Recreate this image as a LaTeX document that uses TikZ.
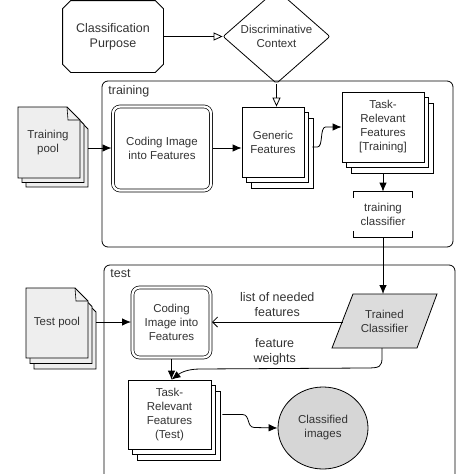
\documentclass[tikz,border=0pt]{standalone}
\usepackage{fontspec}
\setmainfont{Liberation Sans}
\usetikzlibrary{arrows.meta,shapes.geometric,shadows}
\definecolor{docfill}{HTML}{EEEEEE}
\definecolor{tcfill}{HTML}{DCDCDC}
\definecolor{cifill}{HTML}{D6D6D6}
\newcommand{\docsheet}[5]{%
  \draw[fill=docfill, line width=0.8pt] (#1,#2) -- ({#1+#3-#5},#2) -- ({#1+#3},{#2+#5}) -- ({#1+#3},{#2+#4}) -- (#1,{#2+#4}) -- cycle;}
\newcommand{\docflap}[5]{%
  \draw[line width=0.6pt] ({#1+#3-#5},#2) -- ({#1+#3-#5+1},{#2+#5}) -- ({#1+#3},{#2+#5});}
\begin{document}
\begin{tikzpicture}[x=1pt,y=-1pt,
  every node/.style={font=\fontsize{11.5}{14}\selectfont, text=black!80, align=center, inner sep=0pt},
  lbl/.style={font=\fontsize{12.5}{15}\selectfont},
  line width=0.8pt,
  arr/.style={-{Latex[length=9pt,width=7.5pt]}},
  oarr/.style={-{Triangle[open,length=9pt,width=8pt]}},
  varr/.style={-{Straight Barb[length=5pt,width=10pt]}},
  stackbox/.style={draw, fill=white, line width=0.8pt,
     double copy shadow={shadow xshift=4.5pt, shadow yshift=-5.5pt, draw=black, fill=white, line width=0.8pt}},
  codebox/.style={draw, double, double distance=2.3pt, line width=0.7pt, rounded corners=7pt, outer sep=1.5pt},
]
\useasboundingbox (0,0) rectangle (474,474);
\clip (0,0) rectangle (474,474);

% frames
\draw[rounded corners=6pt] (102,81) rectangle (453,247);
\node[lbl, anchor=base west] (trainlbl) at (108,94) {training};
\draw[rounded corners=6pt] (104,265) rectangle (455,495);
\node[lbl, anchor=base west] (testlbl) at (110,277) {test};

% top
\node[lbl, minimum width=100pt, minimum height=71pt] (cp) at (113,36.5) {Classification\\Purpose};
\draw ([xshift=8pt]cp.north west) -- ([xshift=-8pt]cp.north east) -- ([yshift=-8pt]cp.north east)
   -- ([yshift=8pt]cp.south east) -- ([xshift=-8pt]cp.south east) -- ([xshift=8pt]cp.south west)
   -- ([yshift=8pt]cp.south west) -- ([yshift=-8pt]cp.north west) -- cycle;
\node[draw, diamond, rounded corners=2pt, minimum width=107pt, minimum height=67pt] (disc) at (276.5,36.5) {Discriminative\\Context};

% training pool
\docsheet{26}{116}{62}{71}{13}
\docsheet{22}{111.5}{62}{71}{13}
\docsheet{18}{107}{62}{71}{13}
\docflap{18}{107}{62}{71}{13}
\node (tp) at (48,143) {Training\\pool};
\coordinate (tpR) at (88,148);

% test pool
\docsheet{34}{299}{62}{70}{13}
\docsheet{30}{293.5}{62}{70}{13}
\docsheet{26}{288}{62}{70}{13}
\docflap{26}{288}{62}{70}{13}
\node (tsp) at (57,323) {Test pool};
\coordinate (tspR) at (96,322);

% training nodes
\node[codebox, minimum width=98pt, minimum height=84pt] (code1) at (162,148.5) {Coding Image\\into Features};
\node[stackbox, minimum width=62pt, minimum height=70pt] (gen) at (273,142) {Generic\\Features};
\node[stackbox, minimum width=82pt, minimum height=70pt] (trf) at (383,127) {Task-\\Relevant\\Features\\{[}Training{]}};
\node[minimum width=58pt, minimum height=45pt] (trc) at (383,214.5) {training\\classifier};
\draw (trc.north west) ++(0,6) -- (trc.north west) -- (trc.north east) -- ++(0,6);
\draw (trc.south west) ++(0,-6) -- (trc.south west) -- (trc.south east) -- ++(0,-6);

% test nodes
\node[codebox, minimum width=78pt, minimum height=70pt] (code2) at (171.5,322.5) {Coding\\Image into\\Features};
\draw[fill=tcfill] (353,294) -- (437,294) -- (417,348) -- (332,348) -- cycle;
\node (tc) at (384.5,321) {Trained\\Classifier};
\coordinate (tctop) at (383,294);
\coordinate (tcleft) at (342.5,322);
\coordinate (tcbot) at (382,348);
\node[stackbox, minimum width=83pt, minimum height=69pt] (trt2) at (169.5,414.5) {Task-\\Relevant\\Features\\(Test)};
\node[draw, ellipse, fill=cifill, minimum width=90pt, minimum height=82pt] (ci) at (323,428) {Classified\\images};

% connectors
\draw[oarr] (cp.east) -- (disc.west);
\draw[oarr] (disc.south) -- (disc.south |- gen.north);
\draw[arr] (tpR) -- (tpR -| code1.west);
\draw[arr] (code1.east |- tpR) -- (tpR -| gen.west);
\draw[arr] ([xshift=8pt,yshift=-5pt]gen.east) -- ++(5,0) .. controls +(6,0) and +(-6,0) .. ([xshift=-16pt]trf.west) -- (trf.west);
\draw[arr] ([yshift=-11pt]trf.south) -- (trc.north);
\draw[arr] (trc.south) -- (tctop);
\draw[arr] (tspR) -- (tspR -| code2.west);
\draw[varr] (tcleft) -- node[lbl, above=5pt, midway] (lnf) {list of needed\\features} (tcleft -| code2.east);
\draw[arr] (tcbot) -- ++(0,9) .. controls +(0,10) and +(14,0) .. ++(-16,11)
   -- node[lbl, above=3pt, pos=0.55] (fw) {feature\\weights} ++(-166,1)
   .. controls +(-14,0) and +(8,-6) .. ([xshift=2pt]trt2.north);
\draw[arr] (code2.south) -- (code2.south |- trt2.north);
\draw[arr] ([xshift=11pt]trt2.east) -- ++(20,0) .. controls +(8,0) and +(-8,0) .. ++(12,13) -- (ci.west);
\end{tikzpicture}
\end{document}
